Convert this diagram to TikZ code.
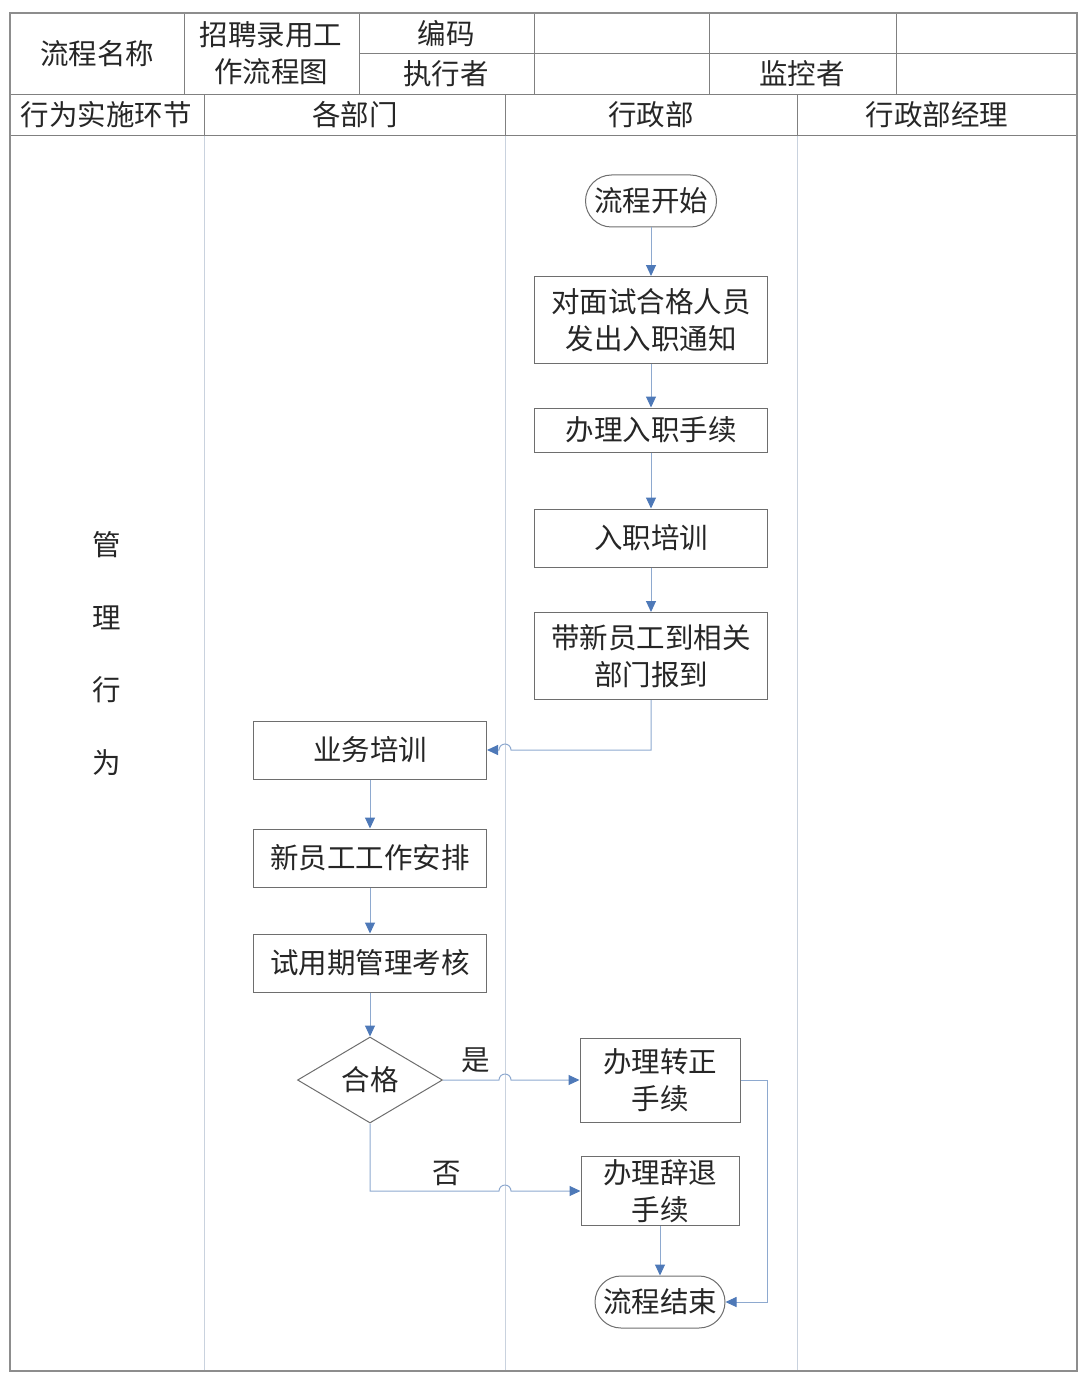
\documentclass[tikz,border=0pt]{standalone}
\usepackage{fontspec}
\setmainfont{Noto Sans CJK SC}
\usetikzlibrary{shapes.geometric,arrows.meta}
\definecolor{gridgray}{HTML}{808080}
\definecolor{lanegray}{HTML}{C9D2DE}
\definecolor{boxgray}{HTML}{6E6E6E}
\definecolor{connblue}{HTML}{8EA9CF}
\definecolor{arrowblue}{HTML}{4E79B8}
\begin{document}
\begin{tikzpicture}[x=1pt,y=1pt,
  every node/.style={font=\fontsize{28.5}{37}\selectfont, text=black!85},
  box/.style={draw=boxgray, line width=1pt, fill=white, align=center, inner sep=0pt},
  term/.style={box, rounded corners=26pt, minimum height=52pt},
  dec/.style={draw=boxgray, line width=1pt, fill=white, diamond, inner sep=0pt, minimum width=145pt, minimum height=86pt, shape aspect=1.7},
  grid/.style={draw=gridgray, line width=1pt},
  lane/.style={draw=lanegray, line width=1pt},
  conn/.style={draw=connblue, line width=1pt, -{Triangle[length=11pt,width=10pt,fill=arrowblue,color=arrowblue]}},
  lbl/.style={inner sep=0pt}
]
\useasboundingbox (0,0) rectangle (1080,-1388);
% lane lines in body
\draw[lane] (204,-136) -- (204,-1371);
\draw[lane] (505,-136) -- (505,-1371);
\draw[lane] (797,-136) -- (797,-1371);
% header grid
\draw[grid] (10,-95) -- (1077,-95);
\draw[grid] (10,-136) -- (1077,-136);
\draw[grid] (359,-54) -- (1077,-54);
\draw[grid] (184,-13) -- (184,-95);
\draw[grid] (359,-13) -- (359,-95);
\draw[grid] (534,-13) -- (534,-95);
\draw[grid] (709,-13) -- (709,-95);
\draw[grid] (896,-13) -- (896,-95);
\draw[grid] (204,-95) -- (204,-136);
\draw[grid] (505,-95) -- (505,-136);
\draw[grid] (797,-95) -- (797,-136);
% outer frame
\draw[draw=gridgray!90, line width=1.6pt] (10,-13) rectangle (1077,-1371);
% header texts
\node[lbl] (h1) at (97,-54) {流程名称};
\node[lbl, align=center] (h2) at (271,-53) {招聘录用工\\作流程图};
\node[lbl] (h3) at (446,-34) {编码};
\node[lbl] (h4) at (446,-74) {执行者};
\node[lbl] (h5) at (802,-74) {监控者};
\node[lbl] (l0) at (106,-115) {行为实施环节};
\node[lbl] (l1) at (355,-115) {各部门};
\node[lbl] (l2) at (651,-115) {行政部};
\node[lbl] (l3) at (937,-115) {行政部经理};
% left column
\node[lbl] (c1) at (107,-545) {管};
\node[lbl] (c2) at (107,-618) {理};
\node[lbl] (c3) at (107,-690) {行};
\node[lbl] (c4) at (107,-763) {为};
% flow nodes
\node[term, minimum width=131pt] (s) at (651,-201) {流程开始};
\node[box, minimum width=233pt, minimum height=87pt] (b1) at (651,-320) {对面试合格人员\\发出入职通知};
\node[box, minimum width=233pt, minimum height=44pt] (b2) at (651,-430) {办理入职手续};
\node[box, minimum width=233pt, minimum height=58pt] (b3) at (651,-538) {入职培训};
\node[box, minimum width=233pt, minimum height=87pt] (b4) at (651,-656) {带新员工到相关\\部门报到};
\node[box, minimum width=233pt, minimum height=58pt] (b5) at (370,-750) {业务培训};
\node[box, minimum width=233pt, minimum height=58pt] (b6) at (370,-858) {新员工工作安排};
\node[box, minimum width=233pt, minimum height=58pt] (b7) at (370,-963) {试用期管理考核};
\node[dec] (d) at (370,-1080) {合格};
\node[box, minimum width=160pt, minimum height=84pt] (z) at (660,-1080) {办理转正\\手续};
\node[box, minimum width=158pt, minimum height=69pt] (r) at (660,-1191) {办理辞退\\手续};
\node[term, minimum width=130pt] (e) at (660,-1302) {流程结束};
% labels
\node[lbl] (yes) at (476,-1060) {是};
\node[lbl] (no) at (447,-1173) {否};
% connectors
\draw[conn] (s) -- (b1);
\draw[conn] (b1) -- (b2);
\draw[conn] (b2) -- (b3);
\draw[conn] (b3) -- (b4);
\draw[conn] (b4.south) |- (511,-750) arc[start angle=0, end angle=180, radius=6] -- (b5.east);
\draw[conn] (b5) -- (b6);
\draw[conn] (b6) -- (b7);
\draw[conn] (b7) -- (d);
\draw[conn] (d.east) -- (499,-1080) arc[start angle=180, end angle=0, radius=6] -- (z.west);
\draw[conn] (d.south) |- (499,-1191) arc[start angle=180, end angle=0, radius=6] -- (r.west);
\draw[conn] (r) -- (e);
\draw[conn] (z.east) -- ++(27,0) |- (e.east);
\end{tikzpicture}
\end{document}
